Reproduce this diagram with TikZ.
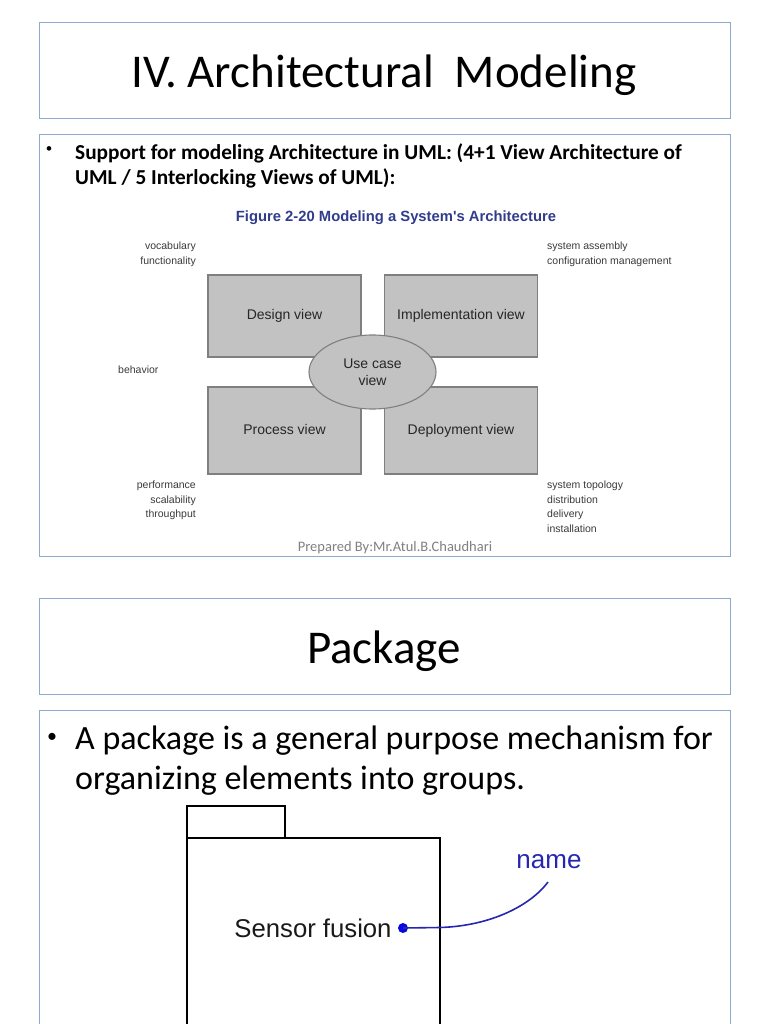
\documentclass[tikz,border=0pt]{standalone}
\usepackage{fontspec}
\usetikzlibrary{shapes.geometric}
\newfontfamily\calib{Carlito}
\newfontfamily\arialf{Liberation Sans}
\definecolor{slideborder}{HTML}{8FAACF}
\definecolor{boxfill}{HTML}{C2C2C2}
\definecolor{boxline}{HTML}{7F7F7F}
\definecolor{figblue}{HTML}{303C8C}
\definecolor{lblgray}{HTML}{3A3A3A}
\definecolor{namblue}{HTML}{2626B0}
\definecolor{dotblue}{HTML}{0A0AE0}
\newcommand{\fsz}[2]{\fontsize{#1}{#2}\selectfont}
\tikzset{
  slidebox/.style={draw=slideborder, line width=1pt},
  viewbox/.style={draw=boxline, fill=boxfill, line width=1.1pt, minimum width=153pt, minimum height=82pt, font=\arialf\fsz{14}{16}, text=black!85, text height=10pt, text depth=3pt},
  ucview/.style={ellipse, draw=boxline, fill=boxfill, line width=1.1pt, minimum width=127pt, minimum height=74pt, inner sep=0pt, font=\arialf\fsz{14}{17}, align=center, text=black!85},
  lbl/.style={font=\arialf\fsz{10.5}{14.5}, text=lblgray, inner sep=0pt},
  ttl/.style={font=\calib\fsz{47}{50}, inner sep=0pt},
  pkgline/.style={draw=black, line width=1.5pt}
}
\begin{document}
\begin{tikzpicture}[x=1pt,y=-1pt]
\useasboundingbox (0,0) rectangle (768,1024);
% ---------- Slide 1 ----------
\draw[slidebox] (39,23) rectangle (730,119);
\node[ttl] (t1) at (384,75) {IV. Architectural\ \ Modeling};
\draw[slidebox] (39,135) rectangle (730,556);
\node[font=\calib\fsz{13}{13}, inner sep=0pt] (b1) at (49,150) {•};
\node[font=\calib\bfseries\fsz{21.3}{25}, anchor=north west, align=left, inner sep=0pt] (s1) at (75,143.5)
  {Support for modeling Architecture in UML: (4+1 View Architecture of\\UML / 5 Interlocking Views of UML):};
\node[font=\arialf\bfseries\fsz{14.8}{16}, text=figblue, inner sep=0pt] (ft) at (396,218) {Figure 2-20 Modeling a System's Architecture};
\node[viewbox] (design) at (284.5,316) {Design view};
\node[viewbox] (impl) at (461,316) {Implementation view};
\node[viewbox, minimum height=87pt] (proc) at (284.5,430.5) {Process view};
\node[viewbox, minimum height=87pt] (depl) at (461,430.5) {Deployment view};
\node[ucview] (uc) at (372.5,372) {Use case\\view};
\node[lbl, anchor=north east, align=right] (l1) at (196,242) {vocabulary\\functionality};
\node[lbl, anchor=north west, align=left] (l2) at (547,242) {system assembly\\configuration management};
\node[lbl, anchor=west] (l3) at (118,370) {behavior};
\node[lbl, anchor=north east, align=right] (l4) at (196,481) {performance\\scalability\\throughput};
\node[lbl, anchor=north west, align=left] (l5) at (547,481) {system topology\\distribution\\delivery\\installation};
\node[font=\calib\fsz{14.5}{15}, text=black!50, inner sep=0pt] (prep) at (395,548) {Prepared By:Mr.Atul.B.Chaudhari};
% ---------- Slide 2 ----------
\draw[slidebox] (39,598) rectangle (730,694);
\node[ttl] (t2) at (384,651) {Package};
\draw[slidebox] (39,1025) -- (39,710) -- (730,710) -- (730,1025);
\node[font=\calib\fsz{20}{20}, inner sep=0pt] (b2) at (52,738) {•};
\node[font=\calib\fsz{34}{40}, anchor=north west, align=left, inner sep=0pt] (s2) at (75,726)
  {A package is a general purpose mechanism for\\organizing elements into groups.};
\draw[pkgline] (187,838) rectangle (285,806);
\draw[pkgline] (187,1025) -- (187,838) -- (440,838) -- (440,1025);
\node[font=\arialf\fsz{25.7}{28}, text=black!90, inner sep=0pt] (sf) at (313,928) {Sensor fusion};
\node[circle, fill=dotblue, inner sep=0pt, minimum size=10pt] (dot) at (403,928) {};
\node[font=\arialf\fsz{26}{28}, text=namblue, inner sep=0pt] (nm) at (549,862) {name};
\coordinate (nmend) at (548,882);
\draw[namblue, line width=1.6pt] (dot.center) -- (440,927.5) .. controls (490,926) and (530,906) .. (nmend);
\end{tikzpicture}
\end{document}
